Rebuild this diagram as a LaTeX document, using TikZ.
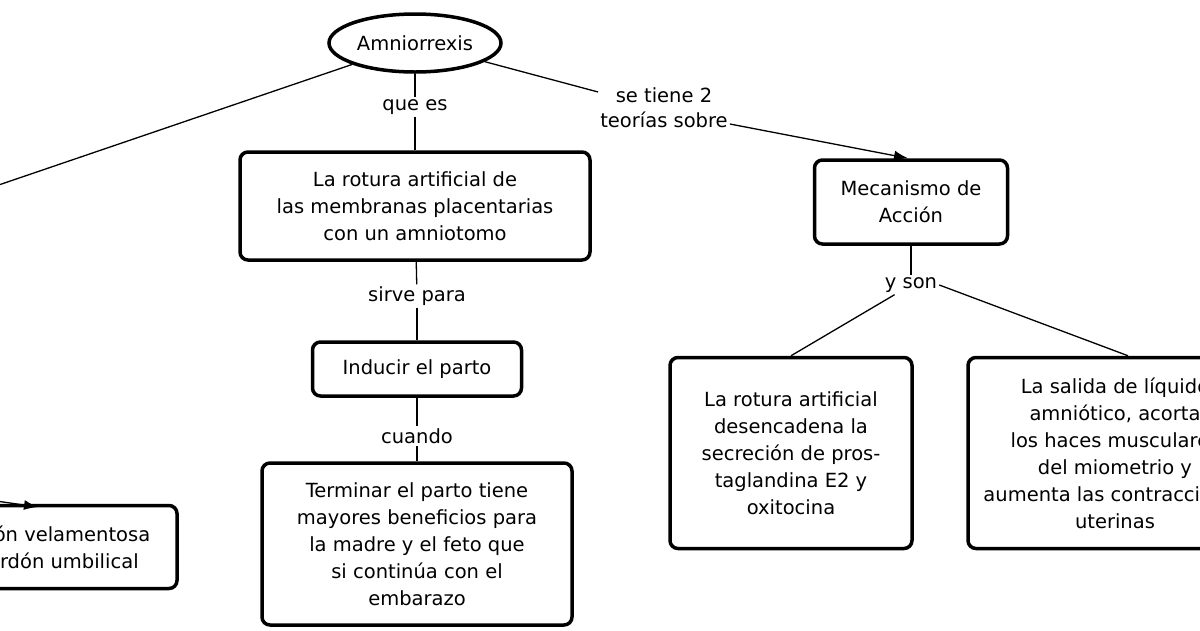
\documentclass[tikz,border=0pt]{standalone}
\usepackage{fontspec}
\setmainfont{DejaVu Sans}
\usetikzlibrary{shapes.geometric,arrows.meta}
\begin{document}
\begin{tikzpicture}[x=1pt,y=-1pt,
  box/.style={draw,line width=3.5pt,rounded corners=8pt,align=center,font=\fontsize{19.5}{27}\selectfont,inner sep=0pt},
  lbl/.style={fill=white,align=center,font=\fontsize{19.5}{25}\selectfont,inner sep=2pt},
  con/.style={line width=1.3pt},
  arr/.style={con,-{Latex[length=14pt,width=10pt]}}]
\useasboundingbox (0,0) rectangle (1200,630);
\clip (0,0) rectangle (1200,630);
\fill[white] (0,0) rectangle (1200,630);
\node[draw,ellipse,line width=3.5pt,minimum width=172pt,minimum height=58pt,inner sep=0pt,font=\fontsize{19.5}{24}\selectfont] (amn) at (415,43) {Amniorrexis};
\node[box,minimum width=350pt,minimum height=108pt] (rot) at (415,206) {La rotura artificial de\\las membranas placentarias\\con un amniotomo};
\node[box,minimum width=209pt,minimum height=54pt] (ind) at (417,369) {Inducir el parto};
\node[box,minimum width=310pt,minimum height=162pt] (ter) at (417,544) {Terminar el parto tiene\\mayores beneficios para\\la madre y el feto que\\si continúa con el\\embarazo};
\node[box,minimum width=193pt,minimum height=84pt] (mec) at (911,202) {Mecanismo de\\Acción};
\node[box,minimum width=242pt,minimum height=191pt] (des) at (791,453) {La rotura artificial\\desencadena la\\secreción de pros-\\taglandina E2 y\\oxitocina};
\node[box,minimum width=294pt,minimum height=191pt] (sal) at (1115,453) {La salida de líquido\\amniótico, acorta\\los haces musculares\\del miometrio y\\aumenta las contracciones\\uterinas};
\node[box,minimum width=274pt,minimum height=83pt] (vel) at (40,547) {Inserción velamentosa\\del cordón umbilical};
\coordinate (offL) at (-60,205);
\coordinate (offA) at (-60,493);
\coordinate (velIn) at (38,507);
\node[lbl] (qes) at (415,107) {que es};
\node[lbl] (sir) at (417,296) {sirve para};
\node[lbl] (cua) at (417,436) {cuando};
\node[lbl] (teo) at (664,108) {se tiene 2\\teorías sobre};
\node[lbl] (yson) at (911,285) {y son};
\draw[con] (amn) -- (offL);
\draw[arr] (offA) -- (velIn);
\draw[con] (amn) -- (qes); \draw[con] (qes) -- (rot);
\draw[con] (rot) -- (sir); \draw[con] (sir) -- (ind);
\draw[con] (ind) -- (cua); \draw[con] (cua) -- (ter);
\draw[con] (amn) -- (teo.west |- 0,92);
\draw[arr] (teo.east |- 0,124) -- (mec.north west -| 908,160);
\draw[con] (mec) -- (yson);
\draw[con] (yson) -- (des.north);
\draw[con] (yson.east) -- (sal.north west -| 1128,356);
\end{tikzpicture}
\end{document}
